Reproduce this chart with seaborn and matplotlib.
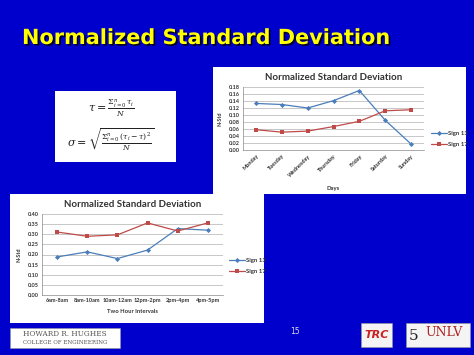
import matplotlib
matplotlib.use("Agg")
import matplotlib.pyplot as plt
import matplotlib.patheffects as pe
from matplotlib.patches import Rectangle
import pandas as pd
import seaborn as sns

# data
days = ["Monday", "Tuesday", "Wednesday", "Thursday", "Friday", "Saturday", "Sunday"]
day_sign13 = [0.133, 0.130, 0.120, 0.141, 0.170, 0.085, 0.017]
day_sign17 = [0.058, 0.051, 0.054, 0.067, 0.082, 0.112, 0.115]

intervals = ["6am-8am", "8am-10am", "10am-12am", "12pm-2pm", "2pm-4pm", "4pm-5pm"]
int_sign13 = [0.188, 0.213, 0.180, 0.222, 0.328, 0.320]
int_sign17 = [0.311, 0.290, 0.297, 0.356, 0.316, 0.356]

series_names = ["Sign 13", "Sign 17"]
palette = {"Sign 13": "#4a7ebb", "Sign 17": "#be4b48"}
markers = {"Sign 13": "D", "Sign 17": "s"}

SLIDE_BLUE = "#0000cc"
CHART_FONT = "Lato"
W, H = 474, 355

sns.set_style("white")
plt.rcParams["font.family"] = ["DejaVu Sans"]
plt.rcParams["mathtext.fontset"] = "dejavuserif"

fig = plt.figure(figsize=(4.74, 3.55), dpi=100, facecolor=SLIDE_BLUE)


def fx(px):
    return px / W


def fy(py):
    return 1 - py / H


def box(x0, y0, x1, y1, color="white", edge="none", lw=0):
    fig.patches.append(Rectangle((fx(x0), fy(y1)), fx(x1 - x0), (y1 - y0) / H,
                                 transform=fig.transFigure, facecolor=color,
                                 edgecolor=edge, linewidth=lw, zorder=-1))


def add_axes(x0, y0, x1, y1):
    return fig.add_axes([fx(x0), fy(y1), fx(x1 - x0), (y1 - y0) / H])


def make_long(cats, s13, s17):
    df = pd.DataFrame({"cat": cats, "Sign 13": s13, "Sign 17": s17})
    return df.melt(id_vars="cat", var_name="series", value_name="val")


def style_chart(ax, ymax, step, xlabel, rotate):
    txt = dict(family=CHART_FONT, fontweight="bold", color="#333333")
    ax.set_facecolor("white")
    ax.set_ylim(0, ymax)
    ticks = [round(i * step, 2) for i in range(int(round(ymax / step)) + 1)]
    ax.set_yticks(ticks)
    ax.set_yticklabels([f"{t:.2f}" for t in ticks], fontsize=4.0, **txt)
    ax.yaxis.grid(True, color="#b0b0b0", linewidth=0.5)
    ax.xaxis.grid(False)
    for s in ["top", "right"]:
        ax.spines[s].set_visible(False)
    for s in ["left", "bottom"]:
        ax.spines[s].set_color("#888888")
        ax.spines[s].set_linewidth(0.5)
    ax.tick_params(axis="both", length=0, pad=2.5)
    if rotate:
        plt.setp(ax.get_xticklabels(), rotation=45, ha="right", rotation_mode="anchor",
                 fontsize=4.0, **txt)
    else:
        plt.setp(ax.get_xticklabels(), fontsize=4.0, **txt)
    ax.set_xlabel(xlabel, fontsize=4.2, **txt)
    ax.set_ylabel("N-Std", fontsize=4.0, **txt)
    ax.set_title("Normalized Standard Deviation", fontsize=7, pad=5, **txt)
    if ax.get_legend() is not None:
        ax.get_legend().remove()


# slide title
fig.text(fx(22), fy(38), "Normalized Standard Deviation", fontsize=15, fontweight="bold",
         color="#ffff00", va="center", ha="left",
         path_effects=[pe.withSimplePatchShadow(offset=(1.2, -1.2), shadow_rgbFace="black", alpha=0.8)])

# formula box
box(55, 91, 176, 162)
fig.text(fx(111), fy(108), r"$\tau = \frac{\Sigma_{i=0}^{n}\,\tau_i}{N}$", fontsize=8,
         ha="center", va="center", color="#222222")
fig.text(fx(111), fy(140), r"$\sigma = \sqrt{\frac{\Sigma_{i=0}^{n}\,(\tau_i - \tau)^2}{N}}$",
         fontsize=8, ha="center", va="center", color="#222222")

# right chart: by day
box(213, 67, 466, 194)
ax1 = add_axes(243, 87, 424, 150)
df_days = make_long(days, day_sign13, day_sign17)
sns.lineplot(data=df_days, x="cat", y="val", hue="series", style="series", markers=markers,
             dashes=False, palette=palette, hue_order=series_names, linewidth=0.9,
             markersize=2.6, markeredgewidth=0, sort=False, ax=ax1)
ax1.set_xlim(-0.5, len(days) - 0.5)
style_chart(ax1, 0.18, 0.02, "Days", rotate=True)
ax1.xaxis.labelpad = 6

# lower chart: by two-hour interval
box(10, 194, 264, 323)
ax2 = add_axes(42, 214, 223, 295)
df_int = make_long(intervals, int_sign13, int_sign17)
sns.lineplot(data=df_int, x="cat", y="val", hue="series", style="series", markers=markers,
             dashes=False, palette=palette, hue_order=series_names, linewidth=0.9,
             markersize=2.6, markeredgewidth=0, sort=False, ax=ax2)
ax2.set_xlim(-0.5, len(intervals) - 0.5)
style_chart(ax2, 0.40, 0.05, "Two Hour Intervals", rotate=False)
ax2.xaxis.labelpad = 4

# legends placed to the right of each plot
for ax, lx, ly in [(ax1, 431, 139), (ax2, 229, 266)]:
    handles = [plt.Line2D([], [], color=palette[n], marker=markers[n], markersize=2.6,
                          linewidth=0.9, markeredgewidth=0) for n in series_names]
    fig.legend(handles, series_names, loc="center left", bbox_to_anchor=(fx(lx), fy(ly)),
               frameon=False, borderpad=0, borderaxespad=0, handlelength=2.6,
               handletextpad=0.3, labelspacing=0.9,
               prop={"family": CHART_FONT, "weight": "bold", "size": 4.3}, labelcolor="#333333")

# footer
box(10, 328, 120, 348, color="white", edge="#999999", lw=0.4)
fig.text(fx(65), fy(334), "HOWARD R. HUGHES", fontsize=5.2, ha="center", va="center",
         color="#555555", family="DejaVu Serif")
fig.text(fx(65), fy(343), "COLLEGE OF ENGINEERING", fontsize=4.0, ha="center", va="center",
         color="#555555", family="DejaVu Serif")
fig.text(fx(295), fy(331), "15", fontsize=5.5, ha="center", va="center", color="#dddddd")

box(361, 323, 392, 347, color="#f4f4f4", edge="#999999", lw=0.4)
fig.text(fx(376.5), fy(335), "TRC", fontsize=8, ha="center", va="center", color="#cc2222",
         fontweight="bold", style="italic")
box(406, 323, 470, 347, color="#f4f4f4", edge="#999999", lw=0.4)
fig.text(fx(414), fy(336), "5", fontsize=11, ha="center", va="center", color="#222222",
         family="DejaVu Serif")
fig.text(fx(444), fy(333), "UNLV", fontsize=9, ha="center", va="center", color="#b22222",
         family="DejaVu Serif")

fig.savefig("out.png", dpi=100, facecolor=SLIDE_BLUE)
